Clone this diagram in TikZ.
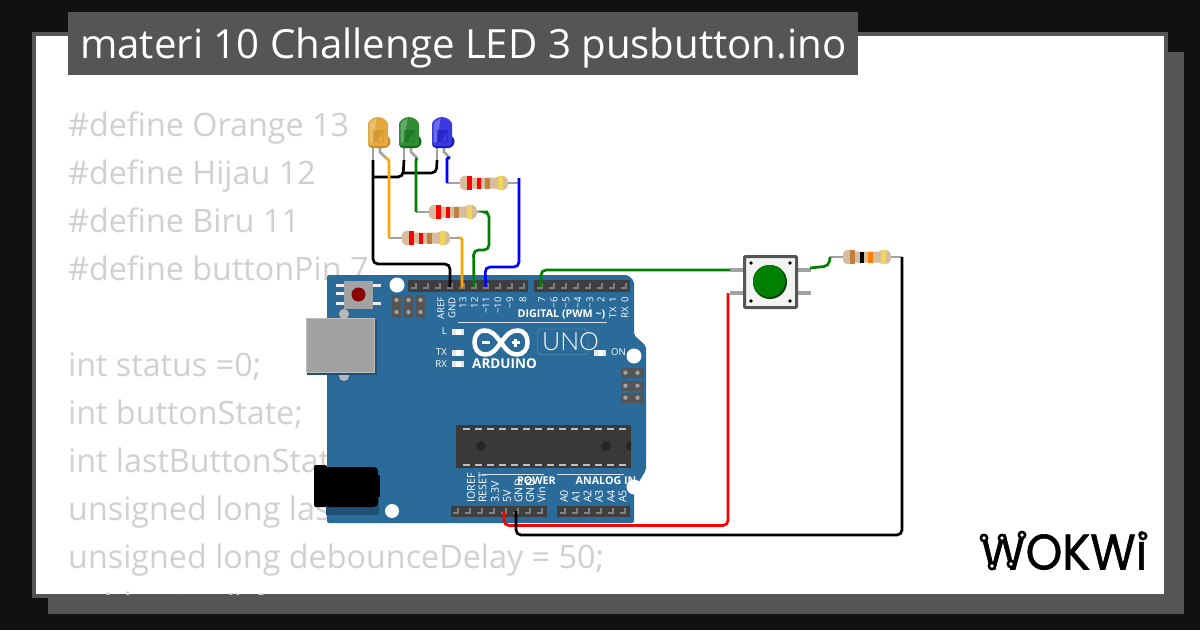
\documentclass[tikz,border=0pt]{standalone}
\usepackage{fontspec}
\setmainfont{Open Sans}
\newfontfamily\logofont{Poppins}[FakeBold=1.2]
\newfontfamily\unofont{Lato}[UprightFont=* Light]
\usetikzlibrary{calc}
\definecolor{pagedark}{HTML}{111111}
\definecolor{panelgrey}{HTML}{555555}
\definecolor{codegrey}{HTML}{D0D0D0}
\definecolor{boardblue}{HTML}{2B6B99}
\definecolor{boardshade}{HTML}{1F5075}
\definecolor{socket}{HTML}{3F3F3F}
\definecolor{lead}{HTML}{A2A2A2}
\definecolor{skin}{HTML}{D8BC9E}
\definecolor{bandgold}{HTML}{EFD55A}
\definecolor{wireorange}{HTML}{FFA500}
\definecolor{wiregreen}{HTML}{008000}
\definecolor{ambera}{HTML}{E3A93F}
\definecolor{amberb}{HTML}{C98E22}
\definecolor{greena}{HTML}{2F8C35}
\definecolor{greenb}{HTML}{0F6B15}
\definecolor{bluea}{HTML}{3A3AE0}
\definecolor{blueb}{HTML}{1A1AB8}
\tikzset{
  code/.style={anchor=base west,text=codegrey,font=\fontsize{32.3}{32.3}\selectfont,inner sep=0pt},
  wire/.style={line width=2.7pt,rounded corners=5pt},
  leg/.style={line width=2.8pt,color=lead},
  pinlabel/.style={rotate=90,anchor=east,text=white,inner sep=0pt,font=\fontsize{9.6}{9.6}\selectfont},
  lowlabel/.style={rotate=90,anchor=west,text=white,inner sep=0pt,font=\fontsize{10.7}{10.7}\selectfont},
  silk/.style={anchor=center,text=white,inner sep=0pt,font=\fontsize{9.6}{9.6}\selectfont},
  silkbold/.style={anchor=center,text=white,inner sep=0pt,font=\fontsize{10.7}{10.7}\selectfont\bfseries},
  hole/.style={fill=white},
}
\newcommand{\Resistor}[7]{% name, left x, y, three bands, last band
  \coordinate (#1l) at (#2,#3); \coordinate (#1r) at ($(#2,#3)+(72,0)$);
  \draw[leg] (#1l)--(#1r);
  \begin{scope}[shift={(#2,#3)}]
  \fill[skin] (13,-2) .. controls (13,-9) and (22,-8) .. (25,-5.5)--(49,-5.5) .. controls (53,-8) and (61,-9) .. (61,0)
    .. controls (61,9) and (53,8) .. (49,5.5)--(25,5.5) .. controls (22,8) and (13,9) .. (13,2)--cycle;
  \fill[#4] (20,-7) rectangle (25,7);
  \fill[#5] (30,-5.5) rectangle (34,5.5);
  \fill[#6] (38,-5.5) rectangle (42.5,5.5);
  \fill[#7] (51,-7) rectangle (56,7);
  \end{scope}}
\newcommand{\Led}[4]{% name, left x, light, dark
  \coordinate (#1c) at ($(#2,148)+(5,12)$); \coordinate (#1a) at ($(#2,148)+(18,10)$);
  \draw[leg] ($(#2,148)+(5,0)$)--(#1c);
  \draw[leg] ($(#2,148)+(12,0)$)--++(0,4)--(#1a);
  \begin{scope}[shift={(#2,117)}]
  \fill[#4] (16,24.5) circle (6.5pt);
  \fill[#4,rounded corners=4pt] (0,20) rectangle (20,31);
  \fill[#3,rounded corners=3pt] (0,29) -- (0,10) arc[start angle=180,end angle=0,radius=10pt] -- (20,29) -- cycle;
  \fill[white,opacity=.25] (1.5,26) -- (1.5,10) arc[start angle=180,end angle=100,radius=8.5pt] -- (5,25) -- cycle;
  \fill[#4,opacity=.55] (5,13) -- (16,13) -- (16,25) -- (5,25) -- cycle;
  \fill[#3] (9,24) -- (15,15) -- (15,24) -- cycle;
  \end{scope}}
\begin{document}
\begin{tikzpicture}[x=1pt,y=-1pt]
\useasboundingbox (0,0) rectangle (1200,630);
\fill[pagedark] (0,0) rectangle (1200,630);
\fill[panelgrey] (48,52) rectangle (1184,614);
\fill[panelgrey] (32,32) rectangle (1168,598);
\fill[white] (36,36) rectangle (1164,594);
\begin{scope}
\clip (36,36) rectangle (1164,594);
\node[code] (define1) at (68,136) {\#define Orange 13};
\node[code] (define2) at (68,184) {\#define Hijau 12};
\node[code] (define3) at (68,232) {\#define Biru 11};
\node[code] (define4) at (68,280) {\#define buttonPin 7};
\node[code] (status) at (68,376) {int status =0;};
\node[code] (state) at (68,424) {int buttonState;};
\node[code] (last) at (68,472) {int lastButtonStat};
\node[code] (long1) at (68,520) {unsigned long las};
\node[code] (long2) at (68,568) {unsigned long debounceDelay = 50;};
\node[code] (tail) at (68,616) {void setup() \{};
\end{scope}
\fill[panelgrey] (68,12) rectangle (858,75);
\node[anchor=base west,text=white,inner sep=0pt,font=\fontsize{40.2}{40.2}\selectfont] (title) at (80,58) {materi 10 Challenge LED 3 pusbutton.ino};
% board
\fill[boardblue,rounded corners=2pt] (327,275)--(628,275)--(634,281)--(634,335)--(646,346)--(646,470)--(634,490)--(634,523)--(327,523)--cycle;
\fill[hole] (397,285) circle (7.5pt);
\fill[hole] (634,356) circle (7.5pt);
\fill[hole] (634,487) circle (7.5pt);
\fill[hole] (392,511) circle (7pt);
\foreach \x in {336,373} \foreach \y in {285,303} \fill[white!85!gray] (\x,\y-1.5) rectangle ++(8,3);
\fill[white!85!gray] (336,292) rectangle ++(8,3);
\fill[lead] (344,281) rectangle (373,309);
\fill[red!55!black] (358.5,294.5) circle (7pt);
\foreach \x in {392,404,416} {
  \fill[panelgrey] (\x,295) rectangle ++(9,23);
  \foreach \y in {300,312} \fill[lead] (\x+4.5,\y) circle (2.2pt);
}
\foreach \y in {368,381,393} {
  \fill[panelgrey] (620.5,\y) rectangle ++(23,9.5);
  \foreach \x in {625.5,637.5} \fill[lead] (\x,\y+4.7) circle (2.2pt);
}
\fill[lead!75!white] (344,314) circle (5pt);
\fill[lead!75!white] (344,376) circle (5pt);
\fill[boardshade] (307,320) rectangle (377,375);
\fill[lead] (306,318) rectangle (375,373);
\draw[lead!70!white] (306,318.5) rectangle (374.5,372.5);
% headers
\fill[socket] (408,280) rectangle (528,292);
\fill[socket] (534,280) rectangle (630,292);
\fill[socket] (451,506) rectangle (547,517);
\fill[socket] (557,506) rectangle (630,517);
\foreach \x [count=\i] in {414,426,...,522} {
  \fill[gray] (\x-3,287) rectangle ++(6,2); \fill[gray] (\x+1,282.5) rectangle ++(2,5);
  \coordinate (up\i) at (\x,287);
}
\foreach \x in {540,552,...,624} {\fill[gray] (\x-3,287) rectangle ++(6,2); \fill[gray] (\x+1,282.5) rectangle ++(2,5);}
\foreach \x [count=\i] in {456,468,...,540} {
  \fill[gray] (\x-3,512) rectangle ++(6,2); \fill[gray] (\x+1,508) rectangle ++(2,5);
  \coordinate (down\i) at (\x,511);
}
\foreach \x in {563,575,...,623} {\fill[gray] (\x-3,512) rectangle ++(6,2); \fill[gray] (\x+1,508) rectangle ++(2,5);}
\coordinate (pinseven) at (541,287);
% top labels
\foreach \x/\t in {441/AREF,452/GND,463/13,474.5/12,486/\textasciitilde 11,498/\textasciitilde 10,510/\textasciitilde 9,523/8,542/7,554/\textasciitilde 6,566/\textasciitilde 5,578/\textasciitilde 4,590/\textasciitilde 3,601/2,613/1,625/0}
  \node[pinlabel] at (\x,297) {\t};
\node[pinlabel] (txlabel) at (613,307) {TX};
\node[pinlabel] (rxlabel) at (625,307) {RX};
\draw[white!80!boardblue,line width=.8pt] (458,322)--(607,322);
\node[silkbold] (digital) at (561.5,314.5) {DIGITAL (PWM \textasciitilde)};
% bottom labels
\foreach \x/\t in {471/IOREF,482.5/RESET,495/3.3V,507/5V,518.5/GND,530/GND,541.5/Vin,564/A0,576/A1,587.5/A2,599/A3,611/A4,622.5/A5}
  \node[lowlabel] at (\x,503) {\t};
\draw[white!80!boardblue,line width=.8pt] (482,474)--(544,474);
\draw[white!80!boardblue,line width=.8pt] (557,474)--(624,474);
\node[silkbold] (power) at (536.5,480.5) {POWER};
\node[silkbold] (analog) at (606,480.5) {ANALOG IN};
% leds on board
\foreach \y in {332,353,364} {\fill[white!80!gray] (452,\y-3) rectangle (464,\y+3);\fill[white] (456,\y-3) rectangle (461,\y+3);}
\fill[white!80!gray] (594,350) rectangle (606,356); \fill[white] (597.5,350) rectangle (602.5,356);
\node[silk,anchor=east] (ledl) at (447,331) {L};
\node[silk,anchor=east] (ledtx) at (447,352) {TX};
\node[silk,anchor=east] (ledrx) at (447,364) {RX};
\node[silk,anchor=west] (ledon) at (611,352.5) {ON};
% logo
\foreach \s in {1,-1}
  \draw[white,line width=4.5pt,shift={(501,342.5)},xscale=\s] (0,0) .. controls (-6,-8) and (-10,-12.5) .. (-17,-12) .. controls (-24,-11.5) and (-26.5,-6) .. (-26.5,0) .. controls (-26.5,6) and (-23,12) .. (-16,12) .. controls (-9,12) and (-6,8) .. (0,0);
\fill[white] (482,341.2) rectangle (490,343.8);
\fill[white] (511.5,341.2) rectangle (519.5,343.8);
\fill[white] (514.2,338.5) rectangle (516.8,346.5);
\node[silkbold,font=\fontsize{13.5}{13.5}\selectfont\bfseries] (arduino) at (504.5,363.5) {ARDUINO};
\draw[white!35!boardblue,rounded corners=4pt] (537.5,329) rectangle (588,354.5);
\node[text=white,inner sep=0pt,anchor=center,font=\fontsize{25}{25}\unofont] (uno) at (570.5,342) {UNO};
% chip
\fill[socket!90!black] (456,425) rectangle (631,468);
\foreach \x in {463,475,...,627} {
  \fill[lightgray] (\x,427.5) rectangle ++(7,2);
  \fill[lightgray] (\x,463.5) rectangle ++(7,2);
}
\fill[black!70!gray] (481,446) circle (5pt);
\fill[black!70!gray] (606,446) circle (5pt);
\begin{scope}
\clip (456,425) rectangle (631,468);
\fill[black!70!gray] (631,446) circle (5pt);
\end{scope}
% jack
\fill[boardshade] (326,490) rectangle (379,515);
\fill[black,rounded corners=2pt] (314,465) rectangle (327,507);
\fill[black,rounded corners=4pt] (325,467) rectangle (378,507);
\fill[black] (377,475) rectangle (380,497);
% parts
\Led{ledo}{368}{ambera}{amberb}
\Led{ledg}{399}{greena}{greenb}
\Led{ledb}{432}{bluea}{blueb}
\Resistor{ro}{389}{238}{red}{red}{brown}{bandgold}
\Resistor{rg}{416}{212}{red}{red}{brown}{bandgold}
\Resistor{rb}{447}{183}{red}{red}{brown}{bandgold}
\Resistor{rw}{830}{257}{brown}{black}{orange}{bandgold}
% button
\foreach \y in {270,293} {
  \draw[leg,line width=4pt] (730,\y)--(743,\y);
  \draw[leg,line width=4pt] (798,\y)--(811,\y);
}
\coordinate (btnlt) at (730,270); \coordinate (btnlb) at (728,293); \coordinate (btnrt) at (810,268);
\fill[white!90!gray,draw=panelgrey,line width=3pt,rounded corners=1pt] (744.5,256.5) rectangle (796.5,307.5);
\foreach \x in {751,790} \foreach \y in {263,301} \fill[black] (\x,\y) circle (1.8pt);
\fill[green!25!black] (770,282) circle (17pt);
\fill[wiregreen] (769,281) circle (16pt);
% wires
\draw[wire,black] (ledoc)--(373,264)--(450,264)--(up4);
\draw[wire,black] (373,177)--(403,177)--(ledgc);
\draw[wire,black] (403,173)--(436.5,173)--(ledbc);
\draw[wire,wireorange,rounded corners=1.5pt] (ledoa)--(389,160)--(rol);
\draw[wire,wireorange,rounded corners=1.5pt] (ror)--(462,238)--(up5);
\draw[wire,wiregreen,rounded corners=1pt] (ledga)--(416,160)--(rgl);
\draw[wire,wiregreen] (rgr)--(489,212)--(489,250)--(473.5,250)--(up6);
\draw[wire,blue,rounded corners=1pt] (ledba)--(447,158)--(rbl);
\draw[wire,blue] (rbr)--(519,183)--(519,267)--(485,267)--(up7);
\draw[wire,wiregreen] (pinseven)--(541,270)--(btnlt);
\draw[wire,wiregreen] (btnrt)--(829,266)--(rwl);
\draw[wire,red] (btnlb)--(728,525.5)--(504,525.5)--(down5);
\draw[wire,black] (rwr)--(902,535)--(516,535)--(down6);
% wokwi
\node[inner sep=0pt,anchor=south west] (wokwi) at (980,570) {\resizebox{167pt}{38pt}{\logofont WOKWi}};
\foreach \x/\y in {984/538,1002/538,1022/535,992/566,1011/564,1143/536} {\fill[black] (\x,\y) circle (4.5pt); \fill[white] (\x,\y) circle (1.8pt);}
\end{tikzpicture}
\end{document}
